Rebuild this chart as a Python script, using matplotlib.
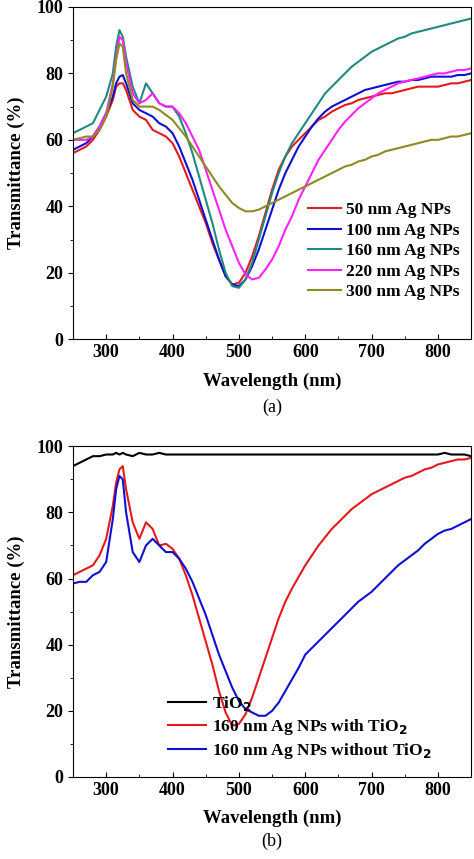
import numpy as np
import matplotlib
matplotlib.use('Agg')
import matplotlib.pyplot as plt
from matplotlib.ticker import MultipleLocator

wl = [250, 260, 270, 280, 290, 300, 310, 315, 320, 325, 330] + list(range(340, 851, 10))

ag50 = [56, 57, 58, 60, 63, 67, 72, 76, 77, 77, 75, 69, 67, 66, 63, 62, 61, 59, 55, 50, 45, 40, 35, 29, 24, 19, 16.5,
        17, 20, 25, 31, 38, 45, 51, 55, 58, 60, 62, 64, 66, 67, 68.5, 69.5, 70.5, 71, 72, 72.5, 73,
        73.5, 74, 74, 74.5, 75, 75.5, 76, 76, 76, 76, 76.5, 77, 77, 77.5, 78]
ag100 = [57, 58, 59, 61, 64, 68, 73, 77, 79, 79.5, 77, 71, 69, 68, 67, 65, 64, 62, 58, 53, 48, 42, 36, 30, 24, 19, 16.5,
         16, 18, 22, 27, 33, 39, 45, 50, 54, 58, 61, 64, 66.5, 68.5, 70, 71, 72, 73, 74, 75, 75.5,
         76, 76.5, 77, 77.5, 77.5, 78, 78, 78.5, 79, 79, 79, 79, 79.5, 79.5, 80]
ag160 = [62, 63, 64, 65, 69, 73, 80, 88, 93, 91, 85, 76, 71, 77, 74, 71, 70, 70, 67, 62, 56, 49, 42, 35, 27, 20, 16,
         15.5, 18, 23, 30, 37, 44, 50, 55, 59, 62, 65, 68, 71, 74, 76, 78, 80, 82, 83.5, 85, 86.5,
         87.5, 88.5, 89.5, 90.5, 91, 92, 92.5, 93, 93.5, 94, 94.5, 95, 95.5, 96, 96.5]
ag220 = [60, 60, 60, 61, 64, 68, 77, 85, 91, 90, 83, 74, 71, 72, 74, 71, 70, 70, 68, 65, 61, 57, 51, 45, 39, 33, 28,
         23, 19.5, 18, 18.5, 21, 24, 28, 33, 37, 42, 46, 50, 54, 57, 60, 63, 65.5, 67.5, 69.5, 71, 72.5,
         74, 75, 76, 77, 77.5, 78, 78.5, 79, 79.5, 80, 80, 80.5, 81, 81, 81.5]
ag300 = [60, 60.5, 61, 61, 63, 67, 76, 84, 89, 88, 80, 72, 70, 70, 70, 69, 67.5, 66, 63.5, 61, 58, 55, 52, 49, 46, 43.5, 41,
         39.5, 38.5, 38.5, 39, 40, 41, 42, 43, 44, 45, 46, 47, 48, 49, 50, 51, 52, 52.5, 53.5, 54, 55,
         55.5, 56.5, 57, 57.5, 58, 58.5, 59, 59.5, 60, 60, 60.5, 61, 61, 61.5, 62]

tio2 = [94, 95, 96, 97, 97, 97.5, 97.5, 98, 97.5, 98, 97.5, 97, 98, 97.5, 97.5, 98, 97.5, 97.5, 97.5, 97.5, 97.5,
        97.5, 97.5, 97.5, 97.5, 97.5, 97.5, 97.5, 97.5, 97.5, 97.5, 97.5, 97.5, 97.5, 97.5, 97.5, 97.5, 97.5,
        97.5, 97.5, 97.5, 97.5, 97.5, 97.5, 97.5, 97.5, 97.5, 97.5, 97.5, 97.5, 97.5, 97.5, 97.5, 97.5, 97.5,
        97.5, 97.5, 97.5, 98, 97.5, 97.5, 97.5, 97]
with_tio2 = [61, 62, 63, 64, 67, 72, 82, 89, 93, 94, 87, 77, 72, 77, 75, 70, 70.5, 69, 66, 61, 55, 48, 41, 34, 26, 19.5, 15.5,
             16, 19, 24, 30, 36, 42, 48, 53, 57, 60.5, 64, 67, 70, 72.5, 75, 77, 79, 81, 82.5, 84, 85.5,
             86.5, 87.5, 88.5, 89.5, 90.5, 91, 92, 93, 93.5, 94.5, 95, 95.5, 96, 96, 96.5]
without_tio2 = [58.5, 59, 59, 61, 62, 65, 78, 87, 91, 90, 80, 68, 65, 70, 72, 70, 68, 68, 66, 63, 59, 54, 49, 43, 37, 32, 27,
                23, 20.5, 19.5, 18.5, 18.5, 20, 22.5, 26, 29.5, 33, 37, 39, 41, 43, 45, 47, 49, 51, 53, 54.5, 56,
                58, 60, 62, 64, 65.5, 67, 68.5, 70.5, 72, 73.5, 74.5, 75, 76, 77, 78]

plt.rcParams['font.family'] = 'Liberation Serif'
plt.rcParams['font.weight'] = 'bold'

fig = plt.figure(figsize=(4.74, 8.59), dpi=100)
ax1 = fig.add_axes([0.154, 0.605, 0.84, 0.387])
ax2 = fig.add_axes([0.154, 0.0955, 0.84, 0.385])

ax1.plot(wl, ag50, color='#e41a1c', lw=1.5, label='50 nm Ag NPs')
ax1.plot(wl, ag100, color='#1010d0', lw=1.5, label='100 nm Ag NPs')
ax1.plot(wl, ag160, color='#1f8a80', lw=1.5, label='160 nm Ag NPs')
ax1.plot(wl, ag220, color='#ff20ff', lw=1.5, label='220 nm Ag NPs')
ax1.plot(wl, ag300, color='#8c8c20', lw=1.5, label='300 nm Ag NPs')
ax1.legend(loc='lower right', bbox_to_anchor=(1.01, 0.07), frameon=False, fontsize=12.5,
           handlelength=1.9, handletextpad=0.3, labelspacing=0.25)

ax2.plot(wl, tio2, color='black', lw=1.5, label='TiO$_2$')
ax2.plot(wl, with_tio2, color='#e41a1c', lw=1.5, label='160 nm Ag NPs with TiO$_2$')
ax2.plot(wl, without_tio2, color='#1010d0', lw=1.5, label='160 nm Ag NPs without TiO$_2$')
ax2.legend(loc='lower left', bbox_to_anchor=(0.2, 0.0), frameon=False, fontsize=12.5,
           handlelength=2.2, handletextpad=0.3, labelspacing=0.25)

for ax in (ax1, ax2):
    ax.set_xlim(250, 850)
    ax.set_ylim(0, 100)
    ax.xaxis.set_major_locator(MultipleLocator(100))
    ax.xaxis.set_minor_locator(MultipleLocator(50))
    ax.yaxis.set_major_locator(MultipleLocator(20))
    ax.yaxis.set_minor_locator(MultipleLocator(10))
    ax.tick_params(axis='x', which='both', direction='in', labelsize=13)
    ax.tick_params(axis='y', which='both', direction='out', labelsize=13)
    ax.set_xlabel('Wavelength (nm)', fontsize=13.5, fontweight='bold', labelpad=8)
    ax.set_ylabel('Transmittance (%)', fontsize=13.5, fontweight='bold', labelpad=8)

fig.text(0.574, 0.526, '(a)', ha='center', va='center', fontsize=13, fontweight='normal')
fig.text(0.574, 0.02, '(b)', ha='center', va='center', fontsize=13, fontweight='normal')

plt.savefig('out.png', dpi=100)
